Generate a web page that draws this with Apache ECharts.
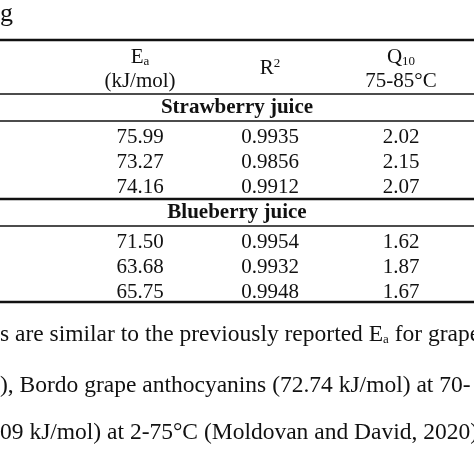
<!DOCTYPE html>
<html>
<head>
<meta charset="utf-8">
<script src="https://cdn.jsdelivr.net/npm/echarts@6/dist/echarts.min.js"></script>
<style>
  html, body { margin: 0; padding: 0; background: #fff; }
  #main { width: 474px; height: 474px; }
</style>
</head>
<body>
<div id="main"></div>
<script>
// table content
var groups = ['Strawberry juice', 'Blueberry juice'];
var eaValues = [[75.99, 73.27, 74.16], [71.50, 63.68, 65.75]];
var r2Values = [[0.9935, 0.9856, 0.9912], [0.9954, 0.9932, 0.9948]];
var q10Values = [[2.02, 2.15, 2.07], [1.62, 1.87, 1.67]];
var bodyLines = [
  [{ t: 's are similar to the previously reported E' }, { t: 'a', sub: true }, { t: ' for grape' }],
  [{ t: '), Bordo grape anthocyanins (72.74 kJ/mol) at 70-' }],
  [{ t: '09 kJ/mol) at 2-75\u00b0C (Moldovan and David, 2020) a' }]
];

var chart = echarts.init(document.getElementById('main'));
var font = '"Liberation Serif", "DejaVu Serif", serif';
var colX = [140, 270, 401];
var els = [];

function txt(x, y, text, opt) {
  opt = opt || {};
  els.push({
    type: 'text', x: x, y: y,
    style: {
      text: text, fill: '#111', font: (opt.bold ? 'bold ' : '') + (opt.size || 21) + 'px ' + font,
      align: opt.align || 'center', verticalAlign: 'middle', rich: opt.rich
    }
  });
}
function rule(y, w) {
  els.push({ type: 'line', shape: { x1: 0, y1: y, x2: 474, y2: y }, style: { stroke: '#111', lineWidth: w } });
}

var sub = { sub: { fontSize: 13, fontFamily: font, fill: '#111', padding: [9, 0, 0, 0] },
            sup: { fontSize: 13, fontFamily: font, fill: '#111', padding: [0, 0, 9, 0] } };

txt(0, 14, 'g', { align: 'left', size: 26 });
rule(40, 2.5);
txt(colX[0], 57, 'E{sub|a}', { rich: sub });
txt(colX[0], 81, '(kJ/mol)');
txt(colX[1], 68, 'R{sup|2}', { rich: sub });
txt(colX[2], 57, 'Q{sub|10}', { rich: sub });
txt(colX[2], 81, '75-85\u00b0C');
rule(94, 1.5);

var groupY = [108, 213];
var rowStart = [137, 242];
groups.forEach(function (g, gi) {
  txt(237, groupY[gi], g, { bold: true });
  rule(groupY[gi] + 13, 1.5);
  for (var i = 0; i < 3; i++) {
    var y = rowStart[gi] + i * 25;
    txt(colX[0], y, eaValues[gi][i].toFixed(2));
    txt(colX[1], y, r2Values[gi][i].toFixed(4));
    txt(colX[2], y, q10Values[gi][i].toFixed(2));
  }
});
rule(199, 2.5);
rule(302, 2.5);

var lineY = [335, 386, 433];
bodyLines.forEach(function (parts, i) {
  var s = parts.map(function (p) { return p.sub ? '{sub|' + p.t + '}' : p.t; }).join('');
  txt(0, lineY[i], s, { align: 'left', size: 23.5, rich: sub });
});

chart.setOption({ animation: false, graphic: { elements: els } });
</script>
</body>
</html>
